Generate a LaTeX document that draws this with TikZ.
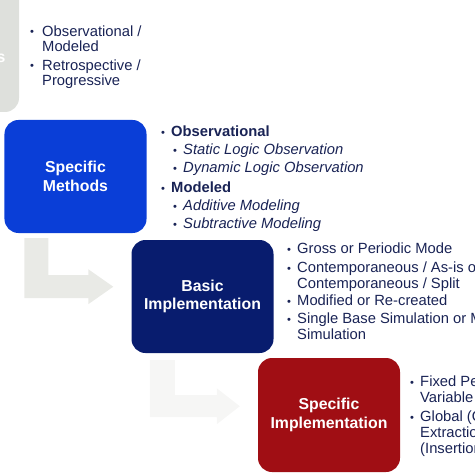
\documentclass[tikz,border=0pt]{standalone}
\usepackage{fontspec}
\setmainfont{Liberation Sans}
\usepackage{xcolor}
\usetikzlibrary{positioning,calc}

\definecolor{grayblock}{RGB}{222,224,220}
\definecolor{methblue}{RGB}{10,62,215}
\definecolor{basicnavy}{RGB}{8,28,110}
\definecolor{implred}{RGB}{160,14,20}
\definecolor{txtnavy}{RGB}{25,35,85}
\definecolor{arrowgray}{RGB}{233,234,230}
\definecolor{arrowpale}{RGB}{246,246,245}

\tikzset{
  block/.style={rounded corners=4.2mm, minimum width=42.6mm, minimum height=33.9mm,
    inner sep=0pt, align=center, text=white,
    font=\fontsize{13.5}{16}\selectfont\bfseries},
  bul/.style={anchor=base west, inner sep=0pt, text=txtnavy,
    font=\fontsize{9.5}{12}\selectfont},
  btext/.style={anchor=base west, inner sep=0pt, text=txtnavy, align=left,
    font=\fontsize{12.6}{13.6}\selectfont},
}

\begin{document}
\begin{tikzpicture}[x=0.3mm, y=-0.3mm]
\useasboundingbox (0,0) rectangle (474,474);

% Top level (cut off)
\fill[grayblock, rounded corners=4.2mm] (-60,-60) rectangle (19,112);
\node[text=white, font=\fontsize{13.5}{16}\selectfont\bfseries] (lvl) at (1,58) {s};

% multi-line texts: base = last line, so y is shifted 16 per extra line
\node[bul] at (30,36) {•};
\node[btext] at (42,52) {Observational /\\Modeled};
\node[bul] at (30,70) {•};
\node[btext] at (42,86) {Retrospective /\\Progressive};

% Boxes
\node[block, fill=methblue] (methods) at (75.5,176.5) {Specific\\Methods};
\node[block, fill=basicnavy] (basic) at (202.5,296.5) {Basic\\Implementation};
\node[block, fill=implred, minimum height=34.2mm] (impl) at (329,415) {Specific\\Implementation};

% Arrows
\coordinate (a1) at ($(methods.south west)+(20,5)$);
\fill[arrowgray] (a1) -- ++(24,0) -- ++(0,37) -- ++(40,0) -- ++(0,-6)
  -- ++(25,17.5) -- ++(-25,17.5) -- ++(0,-6) -- ++(-64,0) -- cycle;
\coordinate (a2) at ($(basic.south west)+(18.5,7)$);
\fill[arrowpale] (a2) -- ++(25,0) -- ++(0,35) -- ++(42,0) -- ++(0,-7)
  -- ++(23,18) -- ++(-23,18) -- ++(0,-7) -- ++(-67,0) -- cycle;

% Methods list
\node[bul] at (161,137) {•};
\node[btext] at (171,137) {\textbf{Observational}};
\node[bul] at (173,155) {•};
\node[btext] at (183,155) {\textit{Static Logic Observation}};
\node[bul] at (173,173) {•};
\node[btext] at (183,173) {\textit{Dynamic Logic Observation}};
\node[bul] at (161,192) {•};
\node[btext] at (171,192) {\textbf{Modeled}};
\node[bul] at (173,210) {•};
\node[btext] at (183,210) {\textit{Additive Modeling}};
\node[bul] at (173,228) {•};
\node[btext] at (183,228) {\textit{Subtractive Modeling}};

% Basic list
\node[bul] at (287,253) {•};
\node[btext] at (297,253) {Gross or Periodic Mode};
\node[bul] at (287,272) {•};
\node[btext] at (297,288) {Contemporaneous / As-is or\\Contemporaneous / Split};
\node[bul] at (287,305) {•};
\node[btext] at (297,305) {Modified or Re-created};
\node[bul] at (287,323) {•};
\node[btext] at (297,339) {Single Base Simulation or Multi-Base\\Simulation};

% Implementation list
\node[bul] at (410,386) {•};
\node[btext] at (420,402) {Fixed Period or\\Variable Period};
\node[bul] at (410,421) {•};
\node[btext] at (420,453) {Global (Overall)\\Extraction\\(Insertion)};
\end{tikzpicture}
\end{document}
